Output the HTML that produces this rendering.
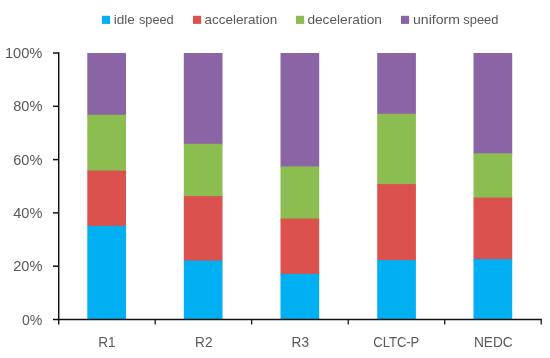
<!DOCTYPE html>
<html lang="en">
<head>
<meta charset="utf-8">
<title>Driving cycle proportion chart</title>
<style>
html,body{margin:0;padding:0;background:#fff;}
body{width:550px;height:358px;overflow:hidden;}
svg{display:block;}
text{font-family:"Liberation Sans",sans-serif;fill:#595959;}
.ax{font-size:13.8px;}
.ay{font-size:14.3px;}
.lg{font-size:12.7px;}
</style>
</head>
<body>
<svg width="550" height="358" viewBox="0 0 550 358">
<rect x="0" y="0" width="550" height="358" fill="#ffffff"/>

<g id="legend">
<rect x="101.9" y="15.8" width="8.1" height="8.1" fill="#00B0F2"/>
<text class="lg" y="23.8"><tspan x="113.7" textLength="21.2" lengthAdjust="spacingAndGlyphs">idle</tspan> <tspan x="138.9" textLength="34.8" lengthAdjust="spacingAndGlyphs">speed</tspan></text>
<rect x="193.0" y="15.8" width="8.1" height="8.1" fill="#DA514E"/>
<text class="lg" x="204.4" y="23.8" textLength="72.8" lengthAdjust="spacingAndGlyphs">acceleration</text>
<rect x="296.0" y="15.8" width="8.1" height="8.1" fill="#8BBD50"/>
<text class="lg" x="307.4" y="23.8" textLength="74.6" lengthAdjust="spacingAndGlyphs">deceleration</text>
<rect x="401.0" y="15.8" width="8.1" height="8.1" fill="#8B64A6"/>
<text class="lg" y="23.8"><tspan x="413.0" textLength="46.9" lengthAdjust="spacingAndGlyphs">uniform</tspan> <tspan x="463.3" textLength="35.2" lengthAdjust="spacingAndGlyphs">speed</tspan></text>
</g>
<g id="bars">
<rect x="87.30" y="53.00" width="38.7" height="62.80" fill="#8B64A6"/>
<rect x="87.30" y="114.80" width="38.7" height="56.80" fill="#8BBD50"/>
<rect x="87.30" y="170.60" width="38.7" height="56.30" fill="#DA514E"/>
<rect x="87.30" y="225.90" width="38.7" height="93.60" fill="#00B0F2"/>
<rect x="183.80" y="53.00" width="38.7" height="91.80" fill="#8B64A6"/>
<rect x="183.80" y="143.80" width="38.7" height="53.30" fill="#8BBD50"/>
<rect x="183.80" y="196.10" width="38.7" height="65.50" fill="#DA514E"/>
<rect x="183.80" y="260.60" width="38.7" height="58.90" fill="#00B0F2"/>
<rect x="280.50" y="53.00" width="38.7" height="114.40" fill="#8B64A6"/>
<rect x="280.50" y="166.40" width="38.7" height="53.20" fill="#8BBD50"/>
<rect x="280.50" y="218.60" width="38.7" height="56.30" fill="#DA514E"/>
<rect x="280.50" y="273.90" width="38.7" height="45.60" fill="#00B0F2"/>
<rect x="377.20" y="53.00" width="38.7" height="61.80" fill="#8B64A6"/>
<rect x="377.20" y="113.80" width="38.7" height="71.30" fill="#8BBD50"/>
<rect x="377.20" y="184.10" width="38.7" height="77.00" fill="#DA514E"/>
<rect x="377.20" y="260.10" width="38.7" height="59.40" fill="#00B0F2"/>
<rect x="473.50" y="53.00" width="38.7" height="101.30" fill="#8B64A6"/>
<rect x="473.50" y="153.30" width="38.7" height="45.30" fill="#8BBD50"/>
<rect x="473.50" y="197.60" width="38.7" height="62.50" fill="#DA514E"/>
<rect x="473.50" y="259.10" width="38.7" height="60.40" fill="#00B0F2"/>
</g>
<g id="xlabels">
<text class="ax" x="106.90" y="346.6" text-anchor="middle" textLength="17.4" lengthAdjust="spacingAndGlyphs">R1</text>
<text class="ax" x="203.80" y="346.6" text-anchor="middle" textLength="17.4" lengthAdjust="spacingAndGlyphs">R2</text>
<text class="ax" x="300.30" y="346.6" text-anchor="middle" textLength="17.4" lengthAdjust="spacingAndGlyphs">R3</text>
<text class="ax" x="396.30" y="346.6" text-anchor="middle" textLength="46.0" lengthAdjust="spacingAndGlyphs">CLTC-P</text>
<text class="ax" x="493.30" y="346.6" text-anchor="middle" textLength="38.8" lengthAdjust="spacingAndGlyphs">NEDC</text>
</g>
<g id="axes" stroke="#111111" fill="none">
<line x1="58.72" y1="52.25" x2="58.72" y2="324.6" stroke-width="1.45"/>
<line x1="53.0" y1="319.5" x2="541.80" y2="319.5" stroke-width="1.3"/>
<line x1="53.0" y1="53.00" x2="58.72" y2="53.00" stroke-width="1.5"/>
<line x1="53.0" y1="106.30" x2="58.72" y2="106.30" stroke-width="1.5"/>
<line x1="53.0" y1="159.60" x2="58.72" y2="159.60" stroke-width="1.5"/>
<line x1="53.0" y1="212.90" x2="58.72" y2="212.90" stroke-width="1.5"/>
<line x1="53.0" y1="266.20" x2="58.72" y2="266.20" stroke-width="1.5"/>
<line x1="155.20" y1="319.5" x2="155.20" y2="324.6" stroke-width="1.25"/>
<line x1="251.70" y1="319.5" x2="251.70" y2="324.6" stroke-width="1.25"/>
<line x1="348.20" y1="319.5" x2="348.20" y2="324.6" stroke-width="1.25"/>
<line x1="444.70" y1="319.5" x2="444.70" y2="324.6" stroke-width="1.25"/>
<line x1="541.20" y1="319.5" x2="541.20" y2="324.6" stroke-width="1.25"/>
</g>
<g id="ylabels">
<text class="ay" x="42.4" y="58.00" text-anchor="end" textLength="37.5" lengthAdjust="spacingAndGlyphs">100%</text>
<text class="ay" x="42.4" y="111.30" text-anchor="end" textLength="29.2" lengthAdjust="spacingAndGlyphs">80%</text>
<text class="ay" x="42.4" y="164.60" text-anchor="end" textLength="29.2" lengthAdjust="spacingAndGlyphs">60%</text>
<text class="ay" x="42.4" y="217.90" text-anchor="end" textLength="29.2" lengthAdjust="spacingAndGlyphs">40%</text>
<text class="ay" x="42.4" y="271.20" text-anchor="end" textLength="29.2" lengthAdjust="spacingAndGlyphs">20%</text>
<text class="ay" x="42.4" y="324.50" text-anchor="end" textLength="20.4" lengthAdjust="spacingAndGlyphs">0%</text>
</g>
</svg>
</body>
</html>
